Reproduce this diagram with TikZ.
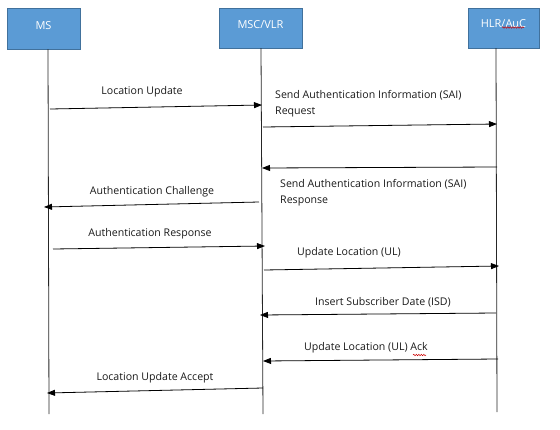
\documentclass[tikz,border=0pt]{standalone}
\usepackage{fontspec}
\setmainfont{Open Sans}
\usetikzlibrary{arrows.meta,decorations.pathmorphing}
\definecolor{boxfill}{HTML}{5B9BD5}
\definecolor{boxline}{HTML}{41719C}
\tikzset{
  actor/.style={draw=boxline, fill=boxfill, line width=0.8pt, text=white, font=\fontsize{11}{13}\selectfont, inner sep=0pt},
  life/.style={draw=black!85, line width=0.8pt},
  msg/.style={draw=black, line width=0.8pt, -{Triangle[length=8pt,width=6pt]}},
  lbl/.style={font=\fontsize{10.6}{16}\selectfont, text=black!90, inner sep=0pt},
  squig/.style={draw=red!80!black, line width=0.5pt, decorate, decoration={snake, amplitude=0.7pt, segment length=2.5pt}}
}
\begin{document}
\begin{tikzpicture}[x=1pt,y=-1pt]
\useasboundingbox (0,0) rectangle (560,429);
% actors
\node[actor, minimum width=73pt, minimum height=41pt] (ms) at (43.5,28.5) {\raisebox{6pt}{MS}};
\node[actor, minimum width=83pt, minimum height=40pt] (msc) at (260.5,28) {\raisebox{7.5pt}{MSC/VLR}};
\node[actor, minimum width=71pt, minimum height=40pt] (hlr) at (503.5,28) {\raisebox{8.5pt}{HLR/AuC}};
\coordinate (sqa) at (502,27.5);
\coordinate (sqb) at (524,27.5);
\draw[squig] (sqa) -- (sqb);
% lifelines
\coordinate (msT) at (48,49);
\coordinate (msB) at (49,414);
\coordinate (mscT) at (261,48);
\coordinate (mscB) at (263,414);
\coordinate (hlrT) at (496,48);
\coordinate (hlrB) at (497,412);
\draw[life] (msT) -- (msB);
\draw[life] (mscT) -- (mscB);
\draw[life] (hlrT) -- (hlrB);
% message end points
\coordinate (m1a) at (50,109);   \coordinate (m1b) at (262,105);
\coordinate (m2a) at (263,127);  \coordinate (m2b) at (497,124);
\coordinate (m3a) at (497,167);  \coordinate (m3b) at (262,168);
\coordinate (m4a) at (259,202);  \coordinate (m4b) at (44,207);
\coordinate (m5a) at (53,249);   \coordinate (m5b) at (265,246);
\coordinate (m6a) at (264,270);  \coordinate (m6b) at (499,266);
\coordinate (m7a) at (496,313);  \coordinate (m7b) at (260,315);
\coordinate (m8a) at (498,359);  \coordinate (m8b) at (263,361);
\coordinate (m9a) at (263,388);  \coordinate (m9b) at (47,393);
\draw[msg] (m1a) -- (m1b);
\draw[msg] (m2a) -- (m2b);
\draw[msg] (m3a) -- (m3b);
\draw[msg] (m4a) -- (m4b);
\draw[msg] (m5a) -- (m5b);
\draw[msg] (m6a) -- (m6b);
\draw[msg] (m7a) -- (m7b);
\draw[msg] (m8a) -- (m8b);
\draw[msg] (m9a) -- (m9b);
% labels
\node[lbl] (l1) at (142,92) {Location Update};
\node[lbl, anchor=west, align=left] (l2) at (275,104) {Send Authentication Information (SAI)\\Request};
\node[lbl, anchor=west, align=left] (l3) at (280,193) {Send Authentication Information (SAI)\\Response};
\node[lbl] (l4) at (152,192) {Authentication Challenge};
\node[lbl] (l5) at (150,234) {Authentication Response};
\node[lbl, anchor=west] (l6) at (297,253) {Update Location (UL)};
\node[lbl, anchor=west] (l7) at (315,302) {Insert Subscriber Date (ISD)};
\node[lbl, anchor=west] (l8) at (304,348) {Update Location (UL) Ack};
\node[lbl] (l9) at (155,378) {Location Update Accept};
\coordinate (sqc) at (413,355);
\coordinate (sqd) at (426,355);
\draw[squig] (sqc) -- (sqd);
\end{tikzpicture}
\end{document}
